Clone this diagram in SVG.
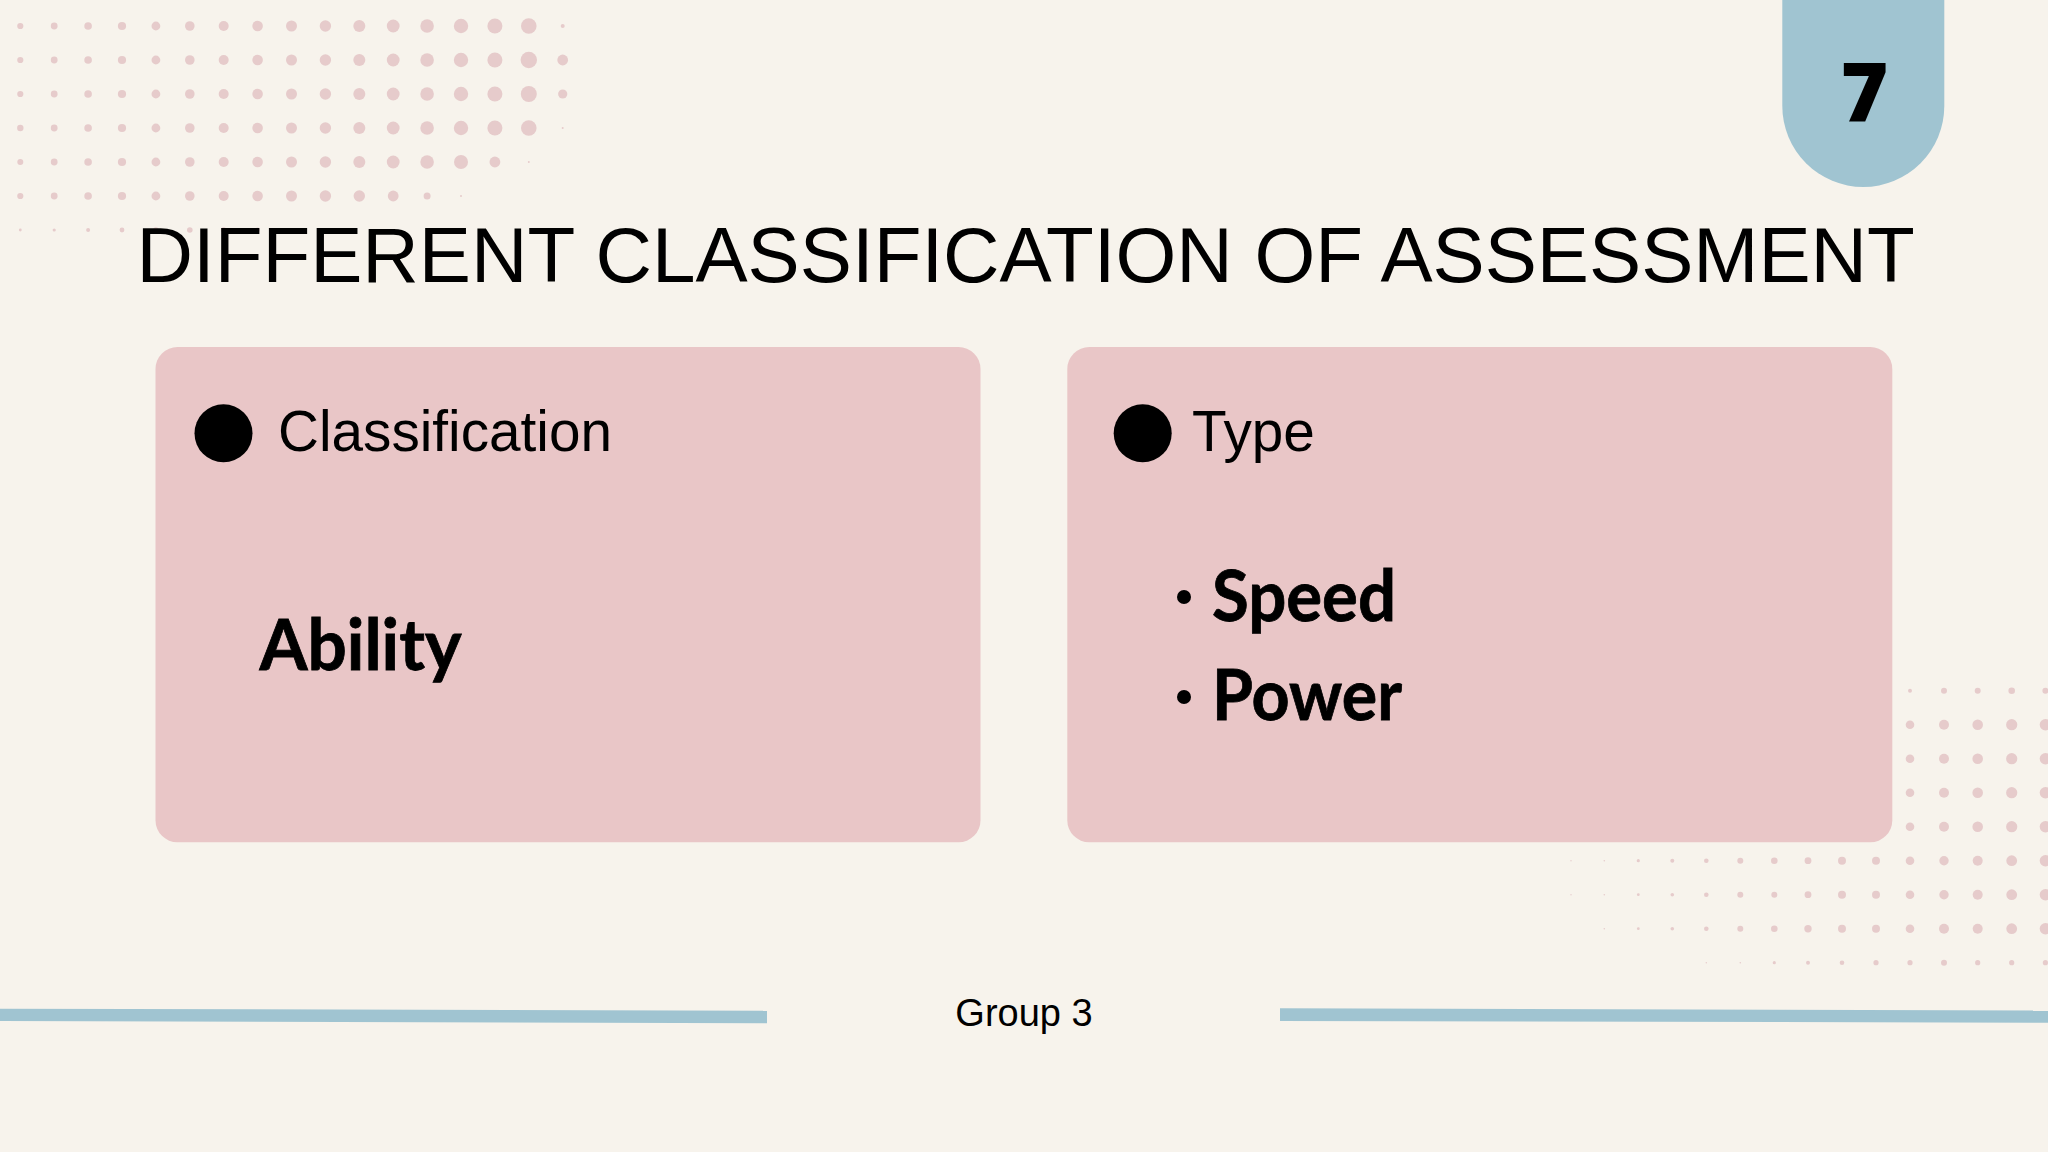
<svg xmlns="http://www.w3.org/2000/svg" width="2048" height="1152" viewBox="0 0 2048 1152">
<style>
.d{fill:#e6cbcb}
.card{fill:#e9c6c7}
.bar{fill:#a0c4d1}
.sans{font-family:"Liberation Sans",Arial,sans-serif;fill:#000}
.bold{font-family:Lato,"Noto Sans",sans-serif;font-weight:700;fill:#000;stroke:#000;stroke-width:.8px;font-size:71px}
</style>
<rect width="2048" height="1152" fill="#f7f3ec"/>
<g id="dots-top-left" class="d">
<circle cx="20.3" cy="26" r="3.1"/><circle cx="54.2" cy="26" r="3.4"/><circle cx="88.1" cy="26" r="3.8"/><circle cx="122" cy="26" r="4.1"/><circle cx="155.9" cy="26" r="4.4"/><circle cx="189.8" cy="26" r="4.8"/><circle cx="223.7" cy="26" r="5"/><circle cx="257.6" cy="26" r="5.3"/><circle cx="291.5" cy="26" r="5.5"/><circle cx="325.4" cy="26" r="5.7"/><circle cx="359.3" cy="26" r="6"/><circle cx="393.2" cy="26" r="6.4"/><circle cx="427.1" cy="26" r="6.8"/><circle cx="461" cy="26" r="7.2"/><circle cx="494.9" cy="26" r="7.5"/><circle cx="528.8" cy="26" r="7.8"/><circle cx="562.7" cy="26" r="2"/>
<circle cx="20.3" cy="60" r="3.1"/><circle cx="54.2" cy="60" r="3.4"/><circle cx="88.1" cy="60" r="3.8"/><circle cx="122" cy="60" r="4.1"/><circle cx="155.9" cy="60" r="4.4"/><circle cx="189.8" cy="60" r="4.8"/><circle cx="223.7" cy="60" r="5"/><circle cx="257.6" cy="60" r="5.3"/><circle cx="291.5" cy="60" r="5.5"/><circle cx="325.4" cy="60" r="5.7"/><circle cx="359.3" cy="60" r="6"/><circle cx="393.2" cy="60" r="6.4"/><circle cx="427.1" cy="60" r="6.8"/><circle cx="461" cy="60" r="7.2"/><circle cx="494.9" cy="60" r="7.5"/><circle cx="528.8" cy="60" r="8.2"/><circle cx="562.7" cy="60" r="5.4"/>
<circle cx="20.3" cy="94" r="3.1"/><circle cx="54.2" cy="94" r="3.4"/><circle cx="88.1" cy="94" r="3.8"/><circle cx="122" cy="94" r="4.1"/><circle cx="155.9" cy="94" r="4.4"/><circle cx="189.8" cy="94" r="4.8"/><circle cx="223.7" cy="94" r="5"/><circle cx="257.6" cy="94" r="5.3"/><circle cx="291.5" cy="94" r="5.5"/><circle cx="325.4" cy="94" r="5.7"/><circle cx="359.3" cy="94" r="6"/><circle cx="393.2" cy="94" r="6.4"/><circle cx="427.1" cy="94" r="6.8"/><circle cx="461" cy="94" r="7.2"/><circle cx="494.9" cy="94" r="7.5"/><circle cx="528.8" cy="94" r="8"/><circle cx="562.7" cy="94" r="4.6"/>
<circle cx="20.3" cy="128" r="3.2"/><circle cx="54.2" cy="128" r="3.4"/><circle cx="88.1" cy="128" r="3.8"/><circle cx="122" cy="128" r="4.1"/><circle cx="155.9" cy="128" r="4.4"/><circle cx="189.8" cy="128" r="4.8"/><circle cx="223.7" cy="128" r="5"/><circle cx="257.6" cy="128" r="5.3"/><circle cx="291.5" cy="128" r="5.5"/><circle cx="325.4" cy="128" r="5.7"/><circle cx="359.3" cy="128" r="6"/><circle cx="393.2" cy="128" r="6.4"/><circle cx="427.1" cy="128" r="6.8"/><circle cx="461" cy="128" r="7.2"/><circle cx="494.9" cy="128" r="7.5"/><circle cx="528.8" cy="128" r="7.8"/><circle cx="562.7" cy="128" r="1"/>
<circle cx="20.3" cy="162" r="3"/><circle cx="54.2" cy="162" r="3.4"/><circle cx="88.1" cy="162" r="3.8"/><circle cx="122" cy="162" r="4.1"/><circle cx="155.9" cy="162" r="4.4"/><circle cx="189.8" cy="162" r="4.8"/><circle cx="223.7" cy="162" r="5"/><circle cx="257.6" cy="162" r="5.3"/><circle cx="291.5" cy="162" r="5.5"/><circle cx="325.4" cy="162" r="5.7"/><circle cx="359.3" cy="162" r="6"/><circle cx="393.2" cy="162" r="6.4"/><circle cx="427.1" cy="162" r="6.8"/><circle cx="461" cy="162" r="7"/><circle cx="494.9" cy="162" r="5.4"/><circle cx="528.8" cy="162" r="1"/>
<circle cx="20.3" cy="196" r="3.1"/><circle cx="54.2" cy="196" r="3.4"/><circle cx="88.1" cy="196" r="3.8"/><circle cx="122" cy="196" r="4.1"/><circle cx="155.9" cy="196" r="4.4"/><circle cx="189.8" cy="196" r="4.8"/><circle cx="223.7" cy="196" r="5"/><circle cx="257.6" cy="196" r="5.3"/><circle cx="291.5" cy="196" r="5.5"/><circle cx="325.4" cy="196" r="5.7"/><circle cx="359.3" cy="196" r="5.7"/><circle cx="393.2" cy="196" r="5.4"/><circle cx="427.1" cy="196" r="3.5"/><circle cx="461" cy="196" r="1"/>
<circle cx="20.3" cy="230" r="1.4"/><circle cx="54.2" cy="230" r="1.6"/><circle cx="88.1" cy="230" r="2"/><circle cx="122" cy="230" r="2.4"/><circle cx="155.9" cy="230" r="2.8"/><circle cx="189.8" cy="230" r="2.8"/><circle cx="223.7" cy="230" r="2.8"/><circle cx="257.6" cy="230" r="2.4"/><circle cx="291.5" cy="230" r="2"/><circle cx="325.4" cy="230" r="1.4"/>
</g>
<g id="dots-bottom-right" class="d">
<circle cx="1910" cy="690.7" r="2"/><circle cx="1944" cy="690.7" r="3"/><circle cx="1977.7" cy="690.7" r="3"/><circle cx="2011.7" cy="690.7" r="3.3"/><circle cx="2045.4" cy="690.7" r="3"/>
<circle cx="1910" cy="724.7" r="4.3"/><circle cx="1944" cy="724.7" r="5"/><circle cx="1977.7" cy="724.7" r="5.3"/><circle cx="2011.7" cy="724.7" r="5.6"/><circle cx="2045.4" cy="724.7" r="5.7"/>
<circle cx="1910" cy="758.7" r="4.3"/><circle cx="1944" cy="758.7" r="5"/><circle cx="1977.7" cy="758.7" r="5.3"/><circle cx="2011.7" cy="758.7" r="5.6"/><circle cx="2045.4" cy="758.7" r="5.7"/>
<circle cx="1910" cy="792.7" r="4.3"/><circle cx="1944" cy="792.7" r="5"/><circle cx="1977.7" cy="792.7" r="5.3"/><circle cx="2011.7" cy="792.7" r="5.6"/><circle cx="2045.4" cy="792.7" r="5.7"/>
<circle cx="1910" cy="826.7" r="4.3"/><circle cx="1944" cy="826.7" r="5"/><circle cx="1977.7" cy="826.7" r="5.3"/><circle cx="2011.7" cy="826.7" r="5.6"/><circle cx="2045.4" cy="826.7" r="5.7"/>
<circle cx="1571" cy="860.7" r=".7"/><circle cx="1604.3" cy="860.7" r=".8"/><circle cx="1638.3" cy="860.7" r="1.6"/><circle cx="1672.3" cy="860.7" r="2"/><circle cx="1706.3" cy="860.7" r="2.3"/><circle cx="1740.3" cy="860.7" r="3"/><circle cx="1774.3" cy="860.7" r="3.3"/><circle cx="1808" cy="860.7" r="3.4"/><circle cx="1842" cy="860.7" r="4"/><circle cx="1876" cy="860.7" r="4"/><circle cx="1910" cy="860.7" r="4.3"/><circle cx="1944" cy="860.7" r="4.7"/><circle cx="1977.7" cy="860.7" r="5"/><circle cx="2011.7" cy="860.7" r="5.4"/><circle cx="2045.4" cy="860.7" r="5.7"/>
<circle cx="1571" cy="894.7" r=".7"/><circle cx="1604.3" cy="894.7" r=".8"/><circle cx="1638.3" cy="894.7" r="1.4"/><circle cx="1672.3" cy="894.7" r="1.8"/><circle cx="1706.3" cy="894.7" r="2.3"/><circle cx="1740.3" cy="894.7" r="3"/><circle cx="1774.3" cy="894.7" r="3"/><circle cx="1808" cy="894.7" r="3.4"/><circle cx="1842" cy="894.7" r="4"/><circle cx="1876" cy="894.7" r="4"/><circle cx="1910" cy="894.7" r="4.3"/><circle cx="1944" cy="894.7" r="4.7"/><circle cx="1977.7" cy="894.7" r="5"/><circle cx="2011.7" cy="894.7" r="5.4"/><circle cx="2045.4" cy="894.7" r="5.7"/>
<circle cx="1604.3" cy="928.7" r=".8"/><circle cx="1638.3" cy="928.7" r="1.4"/><circle cx="1672.3" cy="928.7" r="1.8"/><circle cx="1706.3" cy="928.7" r="2.3"/><circle cx="1740.3" cy="928.7" r="3"/><circle cx="1774.3" cy="928.7" r="3.3"/><circle cx="1808" cy="928.7" r="3.7"/><circle cx="1842" cy="928.7" r="4"/><circle cx="1876" cy="928.7" r="4"/><circle cx="1910" cy="928.7" r="4.3"/><circle cx="1944" cy="928.7" r="5"/><circle cx="1977.7" cy="928.7" r="5"/><circle cx="2011.7" cy="928.7" r="5.4"/><circle cx="2045.4" cy="928.7" r="5.7"/>
<circle cx="1706.3" cy="962.7" r=".7"/><circle cx="1740.3" cy="962.7" r=".8"/><circle cx="1774.3" cy="962.7" r="1.6"/><circle cx="1808" cy="962.7" r="2"/><circle cx="1842" cy="962.7" r="2.3"/><circle cx="1876" cy="962.7" r="2.6"/><circle cx="1910" cy="962.7" r="2.6"/><circle cx="1944" cy="962.7" r="3"/><circle cx="1977.7" cy="962.7" r="2.6"/><circle cx="2011.7" cy="962.7" r="2.6"/><circle cx="2045.4" cy="962.7" r="2.6"/>
</g>
<g id="page-badge">
<path class="bar" d="M1782.3 0H1944.3V106A81 81 0 0 1 1782.3 106Z"/>
<text x="1864.5" y="120.7" text-anchor="middle" font-family="'Open Sans','Noto Sans',sans-serif" font-weight="800" font-size="81">7</text>
</g>
<text id="title" class="sans" x="136.5" y="282" font-size="78.2">DIFFERENT CLASSIFICATION OF ASSESSMENT</text>
<g id="card-classification">
<rect class="card" x="155.5" y="347" width="825" height="495.3" rx="22"/>
<circle cx="223.5" cy="433.3" r="29"/>
<text class="sans" x="278" y="451" font-size="56.7">Classification</text>
<text class="bold" x="259.5" y="670" textLength="202" lengthAdjust="spacingAndGlyphs">Ability</text>
</g>
<g id="card-type">
<rect class="card" x="1067.3" y="347" width="825" height="495.3" rx="22"/>
<circle cx="1142.7" cy="433.3" r="29"/>
<text class="sans" x="1192" y="451" font-size="56.7">Type</text>
<circle cx="1184" cy="597" r="7"/>
<text class="bold" x="1212" y="621" textLength="184" lengthAdjust="spacingAndGlyphs">Speed</text>
<circle cx="1184" cy="697" r="7"/>
<text class="bold" x="1212" y="720" textLength="190" lengthAdjust="spacingAndGlyphs">Power</text>
</g>
<g id="footer">
<path class="bar" d="M0 1008.7L767 1010.7V1023.3L0 1021Z"/>
<path class="bar" d="M1280 1008.3L2048 1010.5V1022.7L1280 1021Z"/>
<text class="sans" x="1024" y="1026" font-size="38" text-anchor="middle">Group 3</text>
</g>
</svg>
